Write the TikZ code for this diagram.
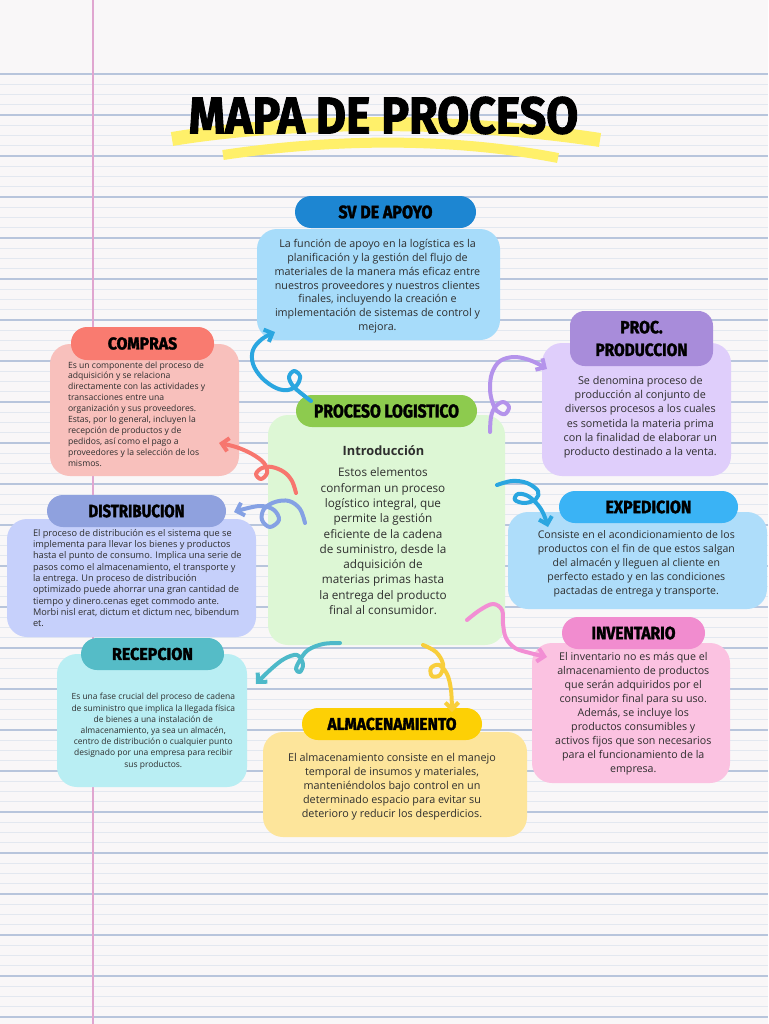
\documentclass[tikz,border=0pt]{standalone}
\usepackage{fontspec}
\setmainfont{Open Sans}
\newfontfamily\hf{Fira Sans}[BoldFeatures={FakeBold=2}]
\usetikzlibrary{arrows.meta}
\definecolor{paper}{HTML}{F9F7F8}
\definecolor{dline}{HTML}{B8C5DC}
\definecolor{lline}{HTML}{E3E8F0}
\definecolor{margin}{HTML}{E0A6D0}
\definecolor{brush}{HTML}{FFF06A}
\definecolor{txtc}{HTML}{2E2E2E}
\definecolor{svH}{HTML}{1D86D2}\definecolor{svB}{HTML}{A7DCFA}
\definecolor{coH}{HTML}{F97B70}\definecolor{coB}{HTML}{F8C0BC}
\definecolor{prH}{HTML}{A88CDA}\definecolor{prB}{HTML}{DFCEFB}
\definecolor{diH}{HTML}{8FA1DE}\definecolor{diB}{HTML}{C6D0FB}
\definecolor{loH}{HTML}{8DCB4E}\definecolor{loB}{HTML}{DDF7D5}
\definecolor{exH}{HTML}{3AB3F5}\definecolor{exB}{HTML}{AEDDFA}
\definecolor{inH}{HTML}{F18CCF}\definecolor{inB}{HTML}{FBC2E1}
\definecolor{reH}{HTML}{55BCC7}\definecolor{reB}{HTML}{B9EEF3}
\definecolor{alH}{HTML}{FDD005}\definecolor{alB}{HTML}{FDE59B}
\definecolor{sqBlue}{HTML}{2AA6E0}
\definecolor{sqSal}{HTML}{F7766E}
\definecolor{sqPer}{HTML}{85A1E4}
\definecolor{sqPur}{HTML}{B493EB}
\definecolor{sqPink}{HTML}{F28ED4}
\definecolor{sqYel}{HTML}{F8CE3B}
\definecolor{sqTeal}{HTML}{4DB9C9}
\newcommand{\hdrtxt}[3]{\resizebox{#1pt}{#2pt}{\hf\bfseries #3}}
\begin{document}
\begin{tikzpicture}[x=0.75pt,y=-0.75pt,
  hdr/.style={rectangle,rounded corners=12pt,inner sep=0pt,outer sep=0pt,text=black},
  bodyb/.style={rectangle,rounded corners=15pt,inner sep=0pt,outer sep=0pt},
  txt/.style={inner sep=0pt,outer sep=0pt,text=txtc},
  sq/.style={line width=3pt,line cap=round,line join=round,-{Straight Barb[length=5pt,width=10pt]}}]
\fill[paper] (0,0) rectangle (768,1024);
\useasboundingbox (0,0) rectangle (768,1024);
\begin{scope}
\clip (0,0) rectangle (768,1024);
\foreach \k in {0,...,23}{
  \foreach \j in {1,2,3}{
    \draw[lline,line width=0.8pt] (0,{74+41*\k+10.25*\j}) -- (768,{74+41*\k+10.25*\j});
  }
  \draw[dline,line width=1.1pt] (0,{74+41*\k}) -- (768,{74+41*\k});
}
\end{scope}
\draw[margin,line width=1.5pt] (93,0) -- (93,1024);
% title brush
\draw[brush,line width=10.5pt] (172,139) .. controls (280,121) and (450,117) .. (600,140);
\draw[brush,line width=7.5pt] (223,155) .. controls (330,139) and (450,137) .. (558,158);
\node[txt,text=black] (title) at (383.5,115.5) {\hdrtxt{292}{27.5}{MAPA DE PROCESO}};
% SV de apoyo
\node[bodyb,fill=svB,minimum width=182.25pt,minimum height=83.25pt] (svb) at (378.5,284.5) {};
\node[hdr,fill=svH,minimum width=135.75pt,minimum height=24pt] (svh) at (385.5,212) {\hdrtxt{70.5}{9.6}{SV DE APOYO}};
\node[txt,align=center,font=\fontsize{8.05}{10.35}\selectfont] (svt) at (377.5,286.3) {La función de apoyo en la logística es la\\
planificación y la gestión del flujo de\\
materiales de la manera más eficaz entre\\
nuestros proveedores y nuestros clientes\\
finales, incluyendo la creación e\\
implementación de sistemas de control y\\
mejora.};
% Compras
\node[bodyb,fill=coB,minimum width=141.75pt,minimum height=99pt] (cob) at (144.5,410) {};
\node[hdr,fill=coH,minimum width=107.25pt,minimum height=24.75pt] (coh) at (142.5,343.5) {\hdrtxt{52}{9.1}{COMPRAS}};
\node[txt,align=left,anchor=west,font=\fontsize{6.45}{8.2}\selectfont] (cot) at (68,414) {Es un componente del proceso de\\
adquisición y se relaciona\\
directamente con las actividades y\\
transacciones entre una\\
organización y sus proveedores.\\
Estas, por lo general, incluyen la\\
recepción de productos y de\\
pedidos, así como el pago a\\
proveedores y la selección de los\\
mismos.};
% Proc produccion
\node[bodyb,fill=prB,minimum width=141.75pt,minimum height=99.75pt] (prb) at (636.5,409.5) {};
\node[hdr,fill=prH,rounded corners=11pt,minimum width=107.25pt,minimum height=41.25pt,align=center,font=\fontsize{10}{17}\selectfont] (prh) at (641.5,338.5) {\hdrtxt{31.75}{9.35}{PROC.}\\\hdrtxt{69}{9.4}{PRODUCCION}};
\node[txt,align=center,font=\fontsize{8.1}{10.65}\selectfont] (prt) at (640.3,417.2) {Se denomina proceso de\\
producción al conjunto de\\
diversos procesos a los cuales\\
es sometida la materia prima\\
con la finalidad de elaborar un\\
producto destinado a la venta.};
% Distribucion
\node[bodyb,fill=diB,minimum width=186.75pt,minimum height=88.5pt] (dib) at (131.5,578) {};
\node[hdr,fill=diH,minimum width=134.25pt,minimum height=24pt] (dih) at (136.5,511) {\hdrtxt{72}{9.4}{DISTRIBUCION}};
\node[txt,align=left,anchor=west,font=\fontsize{6.9}{8.5}\selectfont] (dit) at (33,578) {El proceso de distribución es el sistema que se\\
implementa para llevar los bienes y productos\\
hasta el punto de consumo. Implica una serie de\\
pasos como el almacenamiento, el transporte y\\
la entrega. Un proceso de distribución\\
optimizado puede ahorrar una gran cantidad de\\
tiempo y dinero.cenas eget commodo ante.\\
Morbi nisl erat, dictum et dictum nec, bibendum\\
et.};
% Proceso logistico
\node[bodyb,fill=loB,minimum width=177.75pt,minimum height=172.5pt] (lob) at (386.5,530) {};
\node[hdr,fill=loH,minimum width=135.75pt,minimum height=24pt] (loh) at (386.5,411) {\hdrtxt{108.75}{9.9}{PROCESO LOGISTICO}};
\node[txt,font=\fontsize{9.6}{11}\selectfont\bfseries] (loi) at (383.5,450.7) {Introducción};
\node[txt,align=center,font=\fontsize{8.8}{11.45}\selectfont] (lot) at (383,541.3) {Estos elementos\\
conforman un proceso\\
logístico integral, que\\
permite la gestión\\
eficiente de la cadena\\
de suministro, desde la\\
adquisición de\\
materias primas hasta\\
la entrega del producto\\
final al consumidor.};
% Expedicion
\node[bodyb,fill=exB,minimum width=194.25pt,minimum height=72.75pt] (exb) at (637.5,560.5) {};
\node[hdr,fill=exH,minimum width=134.25pt,minimum height=24pt] (exh) at (648.5,507) {\hdrtxt{64.5}{9.4}{EXPEDICION}};
\node[txt,align=center,font=\fontsize{7.9}{10.5}\selectfont] (ext) at (636.3,563.7) {Consiste en el acondicionamiento de los\\
productos con el fin de que estos salgan\\
del almacén y lleguen al cliente en\\
perfecto estado y en las condiciones\\
pactadas de entrega y transporte.};
% Inventario
\node[bodyb,fill=inB,minimum width=148.5pt,minimum height=105pt] (inb) at (631,713) {};
\node[hdr,fill=inH,minimum width=107.25pt,minimum height=24pt] (inh) at (633.5,633) {\hdrtxt{63}{9.4}{INVENTARIO}};
\node[txt,align=center,font=\fontsize{8}{10.5}\selectfont] (int) at (633.3,713.8) {El inventario no es más que el\\
almacenamiento de productos\\
que serán adquiridos por el\\
consumidor final para su uso.\\
Además, se incluye los\\
productos consumibles y\\
activos fijos que son necesarios\\
para el funcionamiento de la\\
empresa.};
% Recepcion
\node[bodyb,fill=reB,minimum width=142.5pt,minimum height=99.75pt] (reb) at (152,720.5) {};
\node[hdr,fill=reH,minimum width=107.25pt,minimum height=24pt] (reh) at (152.5,654) {\hdrtxt{60.75}{9.1}{RECEPCION}};
\node[txt,align=center,font=\fontsize{6.35}{8.4}\selectfont] (ret) at (153.3,731.3) {Es una fase crucial del proceso de cadena\\
de suministro que implica la llegada física\\
de bienes a una instalación de\\
almacenamiento, ya sea un almacén,\\
centro de distribución o cualquier punto\\
designado por una empresa para recibir\\
sus productos.};
% Almacenamiento
\node[bodyb,fill=alB,minimum width=198pt,minimum height=78.75pt] (alb) at (395,784.5) {};
\node[hdr,fill=alH,minimum width=135pt,minimum height=24pt] (alh) at (392,724) {\hdrtxt{96.75}{9.2}{ALMACENAMIENTO}};
\node[txt,align=center,font=\fontsize{8.1}{10.5}\selectfont] (alt) at (392,786.3) {El almacenamiento consiste en el manejo\\
temporal de insumos y materiales,\\
manteniéndolos bajo control en un\\
determinado espacio para evitar su\\
deterioro y reducir los desperdicios.};
% squiggly connectors
\draw[sq,sqBlue] plot[smooth,tension=0.6] coordinates {(311,401) (302,394) (293,386) (289,377) (294,371) (300,376) (297,385) (288,390) (276,388) (262,378) (253,364) (253,350) (262,339) (275,332)};
\draw[sq,sqSal] plot[smooth,tension=0.6] coordinates {(296,493) (292,481) (284,472) (272,467) (262,468) (256,474) (261,479) (267,473) (264,463) (252,454) (236,447) (219,443)};
\draw[sq,sqPer] plot[smooth,tension=0.6] coordinates {(305,523) (300,509) (289,501) (275,502) (264,509) (262,520) (270,527) (279,520) (274,510) (262,506) (248,508) (234,512)};
\draw[sq,sqPur] plot[smooth,tension=0.6] coordinates {(490,432) (491,417) (495,407) (503,402) (509,407) (505,414) (497,411) (492,401) (490,388) (492,373) (500,361) (515,357) (532,361) (547,369)};
\draw[sq,sqBlue] plot[smooth,tension=0.6] coordinates {(497,485) (512,481) (527,483) (538,491) (536,499) (525,503) (515,500) (518,494) (528,496) (538,505) (544,515) (548,527)};
\draw[sq,sqPink] plot[smooth,tension=0.6] coordinates {(467,620) (480,610) (493,604) (502,610) (503,624) (506,638) (515,648) (530,653) (547,657)};
\draw[sq,sqYel] plot[smooth,tension=0.6] coordinates {(423,645) (436,652) (443,664) (440,675) (432,676) (431,668) (439,665) (447,674) (451,690) (452,712)};
\draw[sq,sqTeal] plot[smooth,tension=0.6] coordinates {(340,643) (323,644) (308,650) (300,660) (296,669) (300,672) (303,664) (297,655) (284,659) (270,670) (256,684)};
\end{tikzpicture}
\end{document}
